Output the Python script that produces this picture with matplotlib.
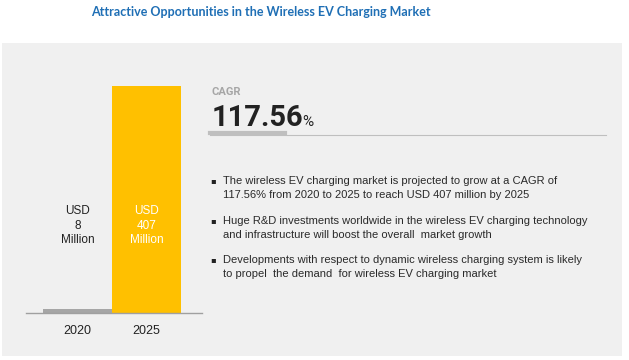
import matplotlib
matplotlib.use("Agg")
import matplotlib.pyplot as plt
from matplotlib.patches import Rectangle
from matplotlib.lines import Line2D

W, H = 629, 360
years = ["2020", "2025"]
values = [8, 407]
value_labels = ["USD\n8\nMillion", "USD\n407\nMillion"]
bar_colors = ["#a6a6a6", "#ffc000"]
title = "Attractive Opportunities in the Wireless EV Charging Market"
cagr_label = "CAGR"
cagr_value = "117.56"
bullets = [
    "The wireless EV charging market is projected to grow at a CAGR of\n117.56% from 2020 to 2025 to reach USD 407 million by 2025",
    "Huge R&D investments worldwide in the wireless EV charging technology\nand infrastructure will boost the overall  market growth",
    "Developments with respect to dynamic wireless charging system is likely\nto propel  the demand  for wireless EV charging market",
]

fig = plt.figure(figsize=(W / 100, H / 100), dpi=100)
fig.patch.set_facecolor("white")

def fx(x):
    return x / W

def fy(y):
    return 1 - y / H

# background panel
fig.patches.append(Rectangle((fx(2), fy(356)), fx(622) - fx(2), fy(43) - fy(356),
                             transform=fig.transFigure, facecolor="#f0f0f0",
                             edgecolor="none", zorder=-5))

fig.text(fx(261), fy(12), title, ha="center", va="center", color="#1f6fb5",
         fontsize=9.0, fontweight="bold", family="Lato")

# bar chart
ax = fig.add_axes([fx(26), fy(313), fx(202) - fx(26), fy(86) - fy(313)])
ax.set_zorder(2)
ax.set_facecolor("none")
xs = list(range(len(years)))
ax.bar(xs, values, width=1.0, color=bar_colors, zorder=2)
ax.set_xlim(-0.5 - 17 / 69, 1.5 + 21 / 69)
ax.set_ylim(0, max(values))
for s in ["top", "right", "left"]:
    ax.spines[s].set_visible(False)
ax.spines["bottom"].set_color("#a0a0a0")
ax.spines["bottom"].set_linewidth(1.0)
ax.set_yticks([])
ax.set_xticks(xs)
ax.set_xticklabels(years, fontsize=9, family="Liberation Sans", color="#222222")
ax.tick_params(axis="x", length=0, pad=9)
label_colors = ["#222222", "white"]
for i, (lab, c) in enumerate(zip(value_labels, label_colors)):
    ax.text(xs[i], 0.385 * max(values), lab, ha="center", va="center", color=c,
            fontsize=8.5, family="Liberation Sans", linespacing=1.25)

# CAGR block
fig.text(fx(212), fy(92), cagr_label, ha="left", va="center", color="#a6a6a6",
         fontsize=8, fontweight="bold", family="Roboto")
t = fig.text(fx(212), fy(126), cagr_value, ha="left", va="baseline", color="#222222",
             fontsize=21, fontweight="bold", family="Roboto")
fig.canvas.draw()
bb = t.get_window_extent()
fig.text((bb.x1 - 1.0) / W, fy(126), "%", ha="left", va="baseline", color="#222222",
         fontsize=11, family="Roboto")
fig.lines.append(Line2D([fx(210), fx(606)], [fy(135), fy(135)], transform=fig.transFigure,
                        color="#bfbfbf", lw=0.8))
fig.lines.append(Line2D([fx(210), fx(285)], [fy(133), fy(133)], transform=fig.transFigure,
                        color="#bfbfbf", lw=3.0))

# bullets
bullet_y = [188, 228, 267]
for y, txt in zip(bullet_y, bullets):
    fig.text(fx(213), fy(y - 7), "\u25aa", ha="center", va="center", color="#222222",
             fontsize=6, family="DejaVu Sans")
    fig.text(fx(223), fy(y), txt, ha="left", va="center", color="#2a2a2a",
             fontsize=8.0, family="Liberation Sans", linespacing=1.4)

fig.savefig("out.png", dpi=100, facecolor=fig.get_facecolor())
